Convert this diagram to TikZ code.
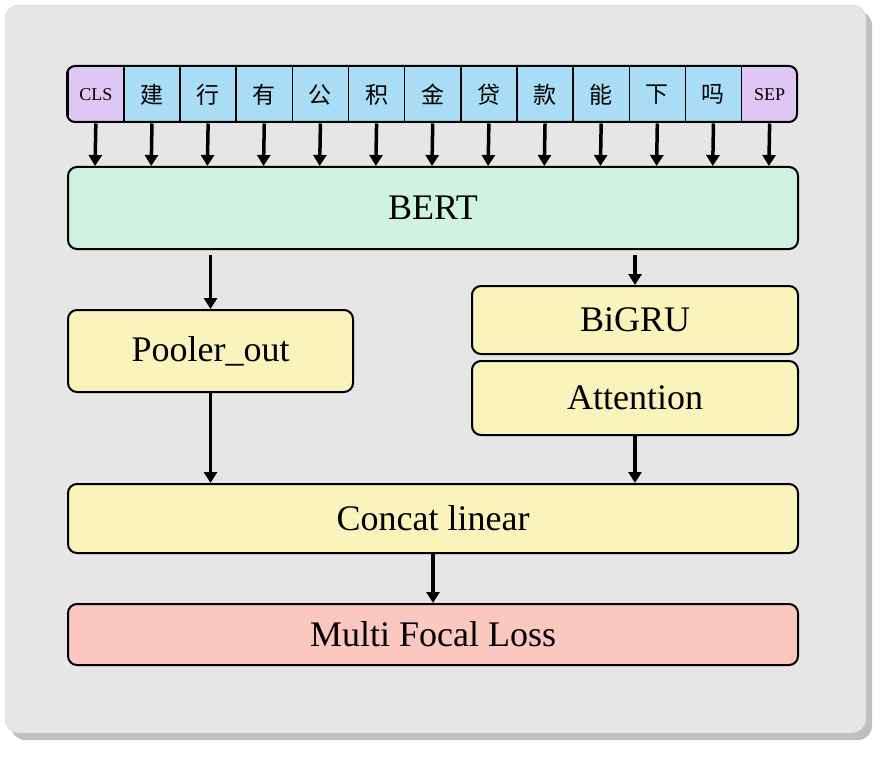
\documentclass[tikz,border=0pt]{standalone}
\usepackage{fontspec}
\setmainfont{Liberation Serif}
\newfontfamily\cjk{Noto Sans CJK SC}
\usetikzlibrary{arrows.meta,shadows}
\begin{document}
\begin{tikzpicture}[x=1pt,y=-1pt,
  box/.style={draw=black,line width=2pt,rounded corners=9pt,anchor=north west,inner sep=0pt,
    font=\fontsize{36}{40}\selectfont},
  tok/.style={draw=black,line width=1.5pt,anchor=north west,inner sep=0pt,minimum width=56.15pt,minimum height=56pt,fill=tokb,font=\cjk\fontsize{23}{26}\selectfont},
  arr/.style={line width=3.5pt,-{Triangle[length=11pt,width=13pt]}}]
\definecolor{bg}{HTML}{E6E6E6}
\definecolor{tokb}{HTML}{A9DDF5}
\definecolor{tokp}{HTML}{DEC6F5}
\definecolor{mint}{HTML}{D0F2E0}
\definecolor{yel}{HTML}{FAF3BB}
\definecolor{pink}{HTML}{FBC7BF}
\useasboundingbox (0,0) rectangle (890,759);
\fill[black!25,rounded corners=14pt] (11,11) rectangle (872,740);
\fill[bg,draw=black!20,rounded corners=14pt] (5,5) rectangle (866,733);
% tokens
\begin{scope}
\clip[rounded corners=8pt] (67,66) rectangle (797,122);
\foreach \t [count=\i from 1] in {建,行,有,公,积,金,贷,款,能,下,吗}{
  \node[tok] (t\i) at ({67+56.15*\i},66) {\t};
}
\node[tok,fill=tokp,font=\fontsize{18}{20}\selectfont] (t0) at (67,66) {CLS};
\node[tok,fill=tokp,font=\fontsize{18}{20}\selectfont] (t12) at ({67+56.15*12},66) {SEP};
\end{scope}
\foreach \i in {0,...,12}{\coordinate (b\i) at ({67+56.15*(\i+0.5)},166);}
\draw[line width=2pt,rounded corners=8pt] (67,66) rectangle (797,122);
\foreach \i in {0,...,12}{\draw[arr] (t\i.south) -- (b\i);}
\node[box,fill=mint,minimum width=730pt,minimum height=82pt] (bert) at (67,166) {BERT};
\node[box,fill=yel,minimum width=285pt,minimum height=82pt] (pool) at (67,309) {Pooler\_out};
\node[box,fill=yel,minimum width=326pt,minimum height=68pt] (gru) at (471,285) {BiGRU};
\node[box,fill=yel,minimum width=326pt,minimum height=74pt] (att) at (471,360) {Attention};
\node[box,fill=yel,minimum width=730pt,minimum height=69pt] (cat) at (67,483) {Concat linear};
\node[box,fill=pink,minimum width=730pt,minimum height=61pt] (loss) at (67,603) {Multi Focal Loss};
\draw[arr] (bert.south -| pool.north) ++(0,5) -- (pool.north);
\draw[arr] (bert.south -| gru.north) ++(0,5) -- (gru.north);
\draw[arr] (pool.south) -- (pool.south |- cat.north);
\draw[arr] (att.south) -- (att.south |- cat.north);
\draw[arr] (cat.south) -- (loss.north);
\end{tikzpicture}
\end{document}
